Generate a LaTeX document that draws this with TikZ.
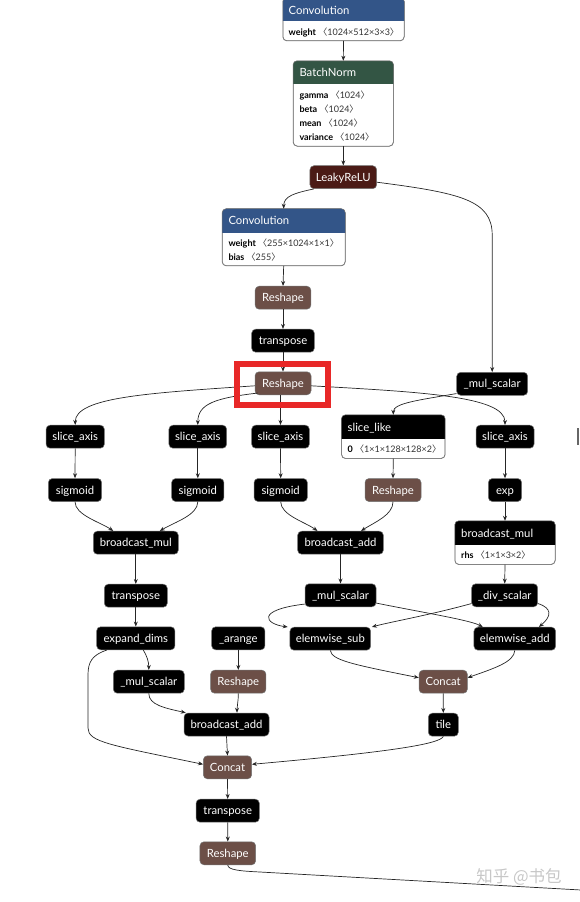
\documentclass[tikz,border=0pt]{standalone}
\usepackage{fontspec}
\setmainfont{Lato}
\newfontfamily\cjkfont{Noto Sans CJK SC}
\usetikzlibrary{arrows.meta}
\definecolor{convblue}{RGB}{51,85,136}
\definecolor{normgreen}{RGB}{51,85,68}
\definecolor{actred}{RGB}{75,27,22}
\definecolor{shapebrown}{RGB}{108,79,71}
\definecolor{hlred}{RGB}{232,40,40}
\tikzset{
  op/.style={rounded corners=4pt, minimum height=23pt, inner sep=0pt, text=white,
    font=\fontsize{11.3}{13}\selectfont, text height=9pt, text depth=1pt, draw=black!55, line width=0.5pt},
  blk/.style={op, fill=black},
  brn/.style={op, fill=shapebrown},
  act/.style={op, fill=actred},
  abox/.style={rounded corners=4pt, draw=black!55, fill=white, line width=0.5pt, inner sep=0pt},
  htext/.style={anchor=base west, text=white, font=\fontsize{11.3}{13}\selectfont, inner sep=0pt},
  atext/.style={anchor=base west, font=\fontsize{9}{11}\selectfont, inner sep=0pt},
  edge/.style={draw=black!85, line width=0.7pt, -{Stealth[length=5pt,width=4pt]}},
  plain/.style={draw=black!85, line width=0.7pt},
}
\newcommand{\hdrfill}[3]{%
  \begin{scope}
    \clip (#1.north west) rectangle ([yshift=-#3]#1.north east);
    \fill[#2, rounded corners=4pt] (#1.north west) rectangle (#1.south east);
  \end{scope}
  \draw[black!55, line width=0.5pt, rounded corners=4pt] (#1.north west) rectangle (#1.south east);}
\newcommand{\val}[1]{{\color{black!80}{\cjkfont〈}#1{\cjkfont〉}}}
\begin{document}
\begin{tikzpicture}[x=1pt,y=-1pt]
\useasboundingbox (0,0) rectangle (580,902);

% ---------- attribute boxes ----------
\node[abox, minimum width=121pt, minimum height=43pt] (conv1) at (343.5,19.2) {};
\hdrfill{conv1}{convblue}{23.3pt}
\node[htext] (conv1t) at (288.5,14) {Convolution};
\node[atext] (conv1a) at (288.5,35.3) {\textbf{weight} \val{1024×512×3×3}};

\node[abox, minimum width=100pt, minimum height=85pt] (bn) at (343.3,103.5) {};
\hdrfill{bn}{normgreen}{23pt}
\node[htext] (bnt) at (299.3,76.5) {BatchNorm};
\node[atext] (bna) at (299.3,98.3) {\textbf{gamma} \val{1024}};
\node[atext] (bnb) at (299.3,112.3) {\textbf{beta} \val{1024}};
\node[atext] (bnc) at (299.3,126) {\textbf{mean} \val{1024}};
\node[atext] (bnd) at (299.3,140) {\textbf{variance} \val{1024}};

\node[act, minimum width=66.7pt] (lrelu) at (343.3,177.2) {LeakyReLU};

\node[abox, minimum width=122.7pt, minimum height=56.7pt] (conv2) at (283.7,237.3) {};
\hdrfill{conv2}{convblue}{23.3pt}
\node[htext] (conv2t) at (228.3,224.7) {Convolution};
\node[atext] (conv2a) at (228.3,246) {\textbf{weight} \val{255×1024×1×1}};
\node[atext] (conv2b) at (228.3,260) {\textbf{bias} \val{255}};

\node[brn, minimum width=55.7pt] (rs1) at (283,297.7) {Reshape};
\node[blk, minimum width=62.7pt] (tr1) at (283,340.7) {transpose};
\node[brn, minimum width=56pt] (rs2) at (283,383.3) {Reshape};
\node[blk, minimum width=71pt] (mulsR) at (492.2,383.8) {\_mul\_scalar};

\node[blk, minimum width=58.3pt] (sa1) at (75.2,436.7) {slice\_axis};
\node[blk, minimum width=57.7pt] (sa2) at (197.8,436.7) {slice\_axis};
\node[blk, minimum width=57.7pt] (sa3) at (280.5,436.7) {slice\_axis};
\node[blk, minimum width=58pt] (saR) at (505,436.7) {slice\_axis};

\node[abox, minimum width=103.3pt, minimum height=43.3pt] (slike) at (393.3,436.7) {};
\hdrfill{slike}{black}{23.3pt}
\node[htext] (sliket) at (347.5,431) {slice\_like};
\node[atext] (slikea) at (347.5,452.3) {\textbf{0} \val{1×1×128×128×2}};

\node[blk, minimum width=53.3pt] (sig1) at (75,490) {sigmoid};
\node[blk, minimum width=52.3pt] (sig2) at (197.8,490) {sigmoid};
\node[blk, minimum width=53.3pt] (sig3) at (280.7,490) {sigmoid};
\node[brn, minimum width=56pt] (rs3) at (393,490) {Reshape};
\node[blk, minimum width=33.3pt] (exp) at (505,490) {exp};

\node[blk, minimum width=85pt] (bm1) at (135.8,542.7) {broadcast\_mul};
\node[blk, minimum width=85.7pt] (ba1) at (340.5,542.7) {broadcast\_add};

\node[abox, minimum width=100pt, minimum height=43.3pt] (bmR) at (505,542.7) {};
\hdrfill{bmR}{black}{23.3pt}
\node[htext] (bmRt) at (461,537.3) {broadcast\_mul};
\node[atext] (bmRa) at (461,558.3) {\textbf{rhs} \val{1×1×3×2}};

\node[blk, minimum width=63pt] (tr2) at (135.8,595.7) {transpose};
\node[blk, minimum width=71pt] (mulsM) at (340.5,595.3) {\_mul\_scalar};
\node[blk, minimum width=66pt] (divs) at (504.7,595.3) {\_div\_scalar};

\node[blk, minimum width=78.3pt] (ed) at (135.8,638.3) {expand\_dims};
\node[blk, minimum width=53.3pt] (arange) at (238.3,638.3) {\_arange};
\node[blk, minimum width=80.7pt] (esub) at (330.3,638.7) {elemwise\_sub};
\node[blk, minimum width=81.7pt] (eadd) at (514.8,638.7) {elemwise\_add};

\node[blk, minimum width=71pt] (mulsL) at (148.8,681.7) {\_mul\_scalar};
\node[brn, minimum width=55.3pt] (rs4) at (238.3,681.7) {Reshape};
\node[brn, minimum width=48.3pt] (concat1) at (443.2,681.7) {Concat};

\node[blk, minimum width=85pt] (ba2) at (226.5,724.5) {broadcast\_add};
\node[blk, minimum width=30pt] (tile) at (443.3,724.7) {tile};

\node[brn, minimum width=48.3pt] (concat2) at (227.5,767.3) {Concat};
\node[blk, minimum width=63.3pt] (tr3) at (227.7,810.7) {transpose};
\node[brn, minimum width=55.7pt] (rs5) at (227.8,853.3) {Reshape};

\coordinate (offpage) at (590,890.5);

% ---------- edges ----------
\draw[edge] (conv1.south) -- (bn.north);
\draw[edge] (bn.south) -- (lrelu.north);
\draw[edge] ([xshift=4pt]lrelu.south west) .. controls (295,193) and (283.7,196) .. (conv2.north);
\draw[edge] ([yshift=-5pt]lrelu.east) .. controls (460,193) and (492.2,200) .. (492.2,235) -- (mulsR.north);
\draw[edge] (conv2.south) -- (rs1.north);
\draw[edge] (rs1.south) -- (tr1.north);
\draw[edge] (tr1.south) -- (rs2.north);

\draw[edge] ([yshift=-2.5pt]rs2.west) .. controls (150,393) and (75.2,397) .. (sa1.north);
\draw[edge] ([xshift=3pt,yshift=2pt]rs2.south west) .. controls (215,398) and (197.8,404) .. (sa2.north);
\draw[edge] ([xshift=-2.5pt]rs2.south) -- (sa3.north);
\draw[edge] ([yshift=-2.5pt]rs2.east) .. controls (420,392) and (505,396) .. (saR.north);
\draw[edge] ([yshift=2pt]mulsR.south west) .. controls (420,400) and (393.3,403) .. (slike.north);

\draw[edge] (sa1.south) -- (sig1.north);
\draw[edge] (sa2.south) -- (sig2.north);
\draw[edge] (sa3.south) -- (sig3.north);
\draw[edge] (slike.south) -- (rs3.north);
\draw[edge] (saR.south) -- (exp.north);
\draw[edge] (exp.south) -- (bmR.north);

\draw[edge] (sig1.south) .. controls (75,515) and (100,522) .. ([xshift=-22.5pt]bm1.north);
\draw[edge] (sig2.south) .. controls (197.8,515) and (175,522) .. ([xshift=24pt]bm1.north);
\draw[edge] (sig3.south) .. controls (280.7,515) and (305,522) .. ([xshift=-23pt]ba1.north);
\draw[edge] (rs3.south) .. controls (393,515) and (375,522) .. ([xshift=20.5pt]ba1.north);

\draw[edge] (bm1.south) -- (tr2.north);
\draw[edge] (tr2.south) -- (ed.north);
\draw[edge] (ba1.south) -- (mulsM.north);
\draw[edge] (bmR.south) -- (divs.north);

\draw[edge] ([xshift=7.5pt]ed.south) .. controls (147,656) and (148.8,662) .. (mulsL.north);
\draw[edge] ([xshift=-29pt]ed.south) .. controls (92,655) and (88,662) .. (88,675) -- (88,728)
   .. controls (88,742) and (110,745) .. ([yshift=3pt]concat2.west);
\draw[edge] (arange.south) -- (rs4.north);
\draw[edge] (mulsL.south) .. controls (148.8,705) and (165,708) .. ([xshift=2pt]ba2.north west);
\draw[edge] (rs4.south) .. controls (238.3,703) and (237,705) .. ([xshift=10.5pt]ba2.north);
\draw[edge] (ba2.south) -- (concat2.north);

\draw[edge] ([yshift=3pt]mulsM.south west) .. controls (255,610) and (265,624) .. ([xshift=-2pt]esub.north west);
\draw[edge] ([yshift=4pt]mulsM.south east) .. controls (420,612) and (470,620) .. ([xshift=9pt]eadd.north west);
\draw[edge] ([yshift=3.5pt]divs.south west) .. controls (430,615) and (390,622) .. ([xshift=1pt]esub.north east);
\draw[edge] ([yshift=3.5pt]divs.south east) .. controls (552,608) and (552,616) .. ([xshift=-17pt]eadd.north east);

\draw[edge] (esub.south) .. controls (332,660) and (350,664) .. ([yshift=4pt]concat1.west);
\draw[edge] (eadd.south) .. controls (514,662) and (495,668) .. ([yshift=4pt]concat1.east);
\draw[edge] (concat1.south) -- (tile.north);
\draw[edge] (tile.south) .. controls (440,744) and (390,752) .. ([yshift=3pt]concat2.east);

\draw[edge] (concat2.south) -- (tr3.north);
\draw[edge] (tr3.south) -- (rs5.north);
\draw[plain] (rs5.south) .. controls (228,870) and (240,871) .. (260,872) -- (offpage);

% ---------- highlight ----------
\draw[hlred, line width=6pt] (236.7,364) rectangle (327.7,405);

% ---------- watermark and edge mark ----------
\node[text=black!22, font=\fontsize{16.5}{18}\selectfont, inner sep=0pt] (wm) at (519,877.3) {\cjkfont 知乎 @书包};
\fill[black!60] (576.7,428) rectangle (578.5,445);
\end{tikzpicture}
\end{document}
